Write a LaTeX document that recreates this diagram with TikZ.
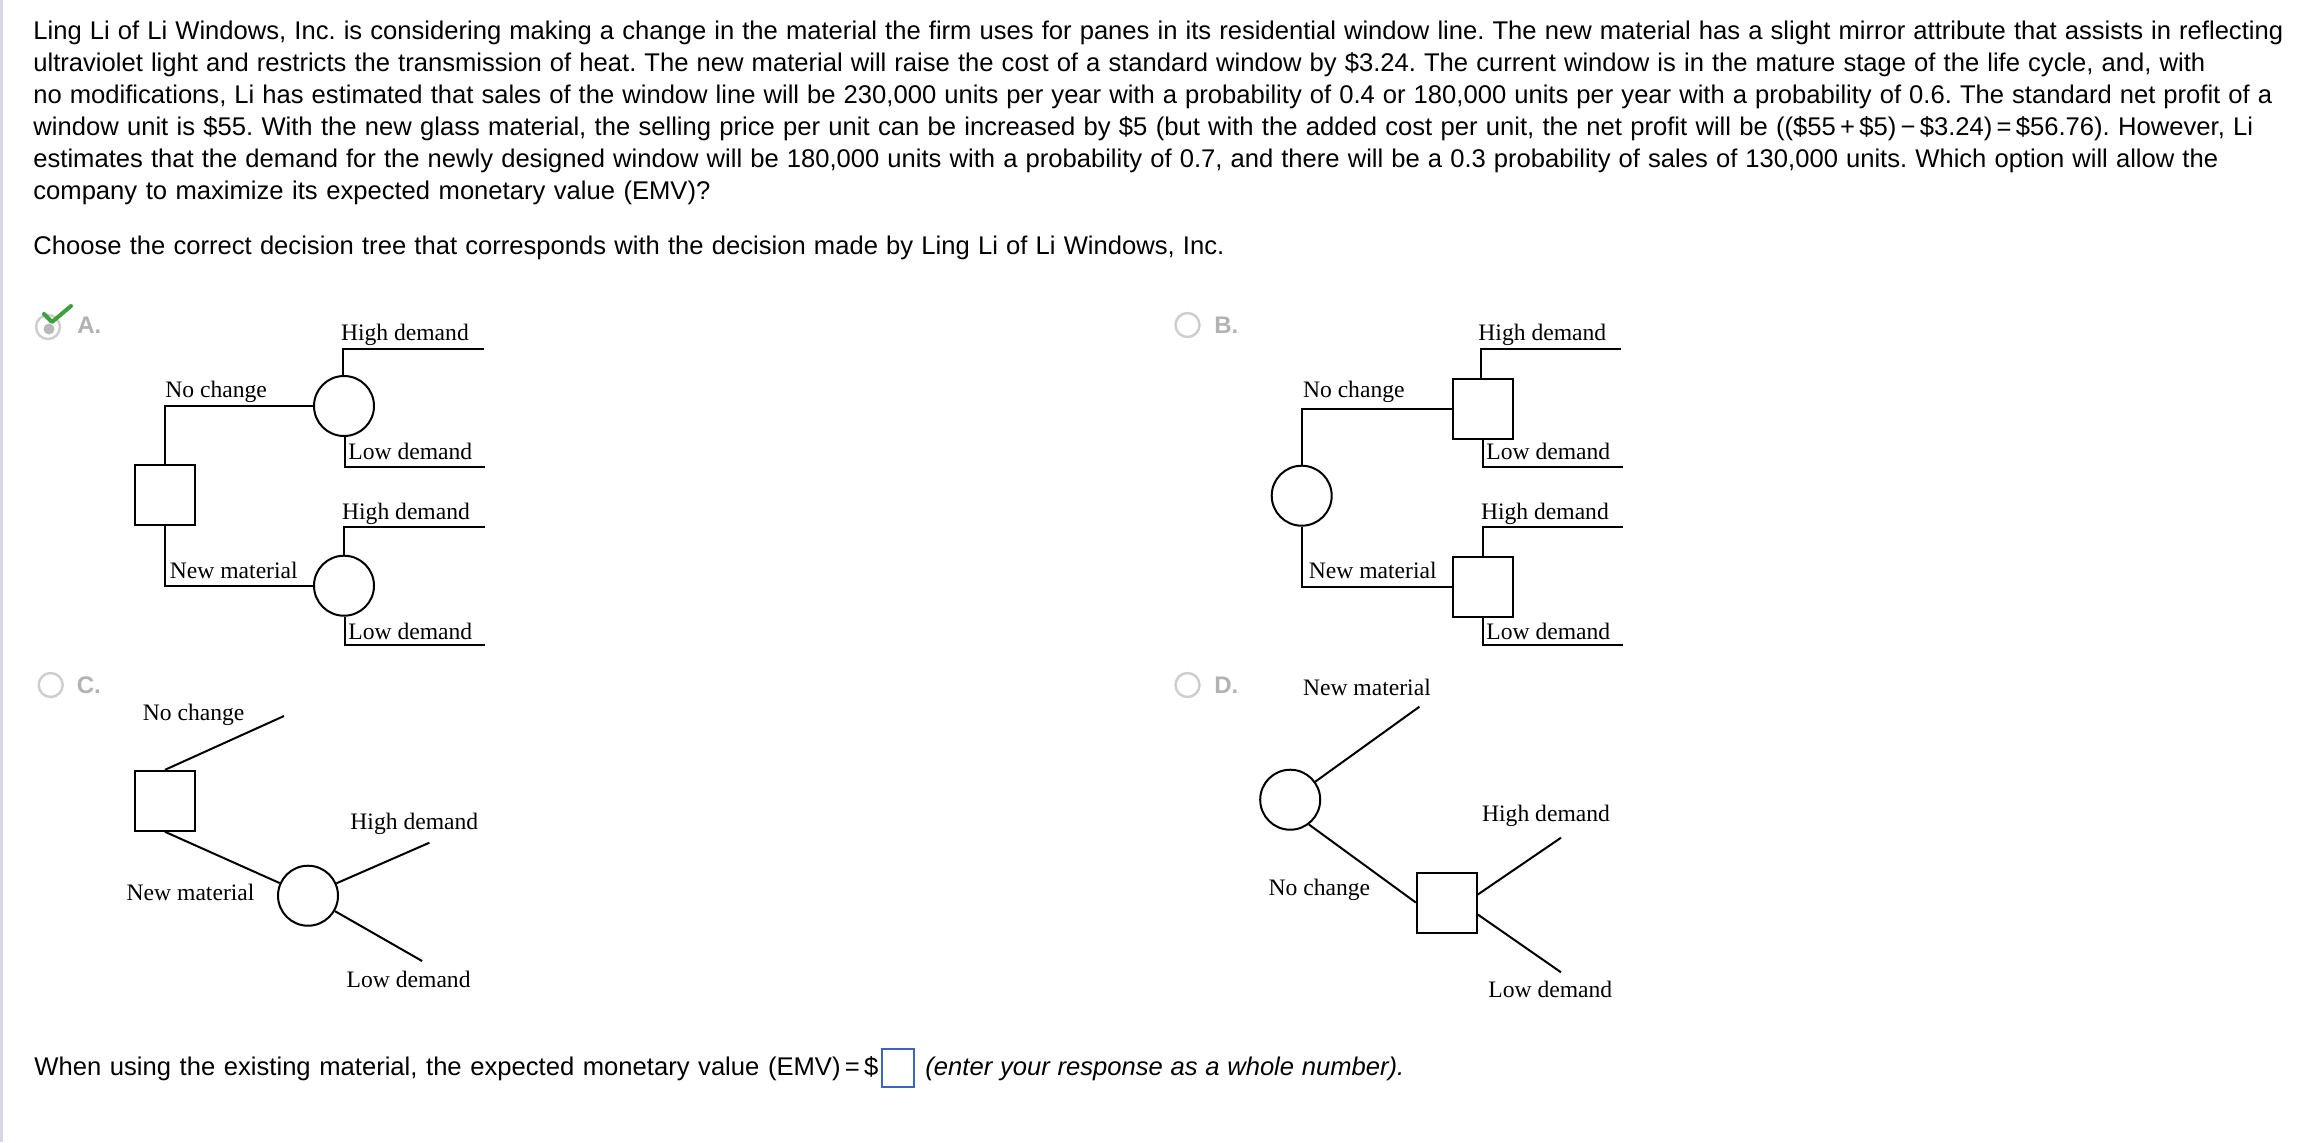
\documentclass[tikz,border=0pt]{standalone}
\usepackage{fontspec}
\setmainfont{Liberation Serif}
\newfontfamily\arial{Liberation Sans}
\definecolor{optgray}{RGB}{178,178,178}
\definecolor{ringgray}{RGB}{205,205,205}
\definecolor{bordercol}{RGB}{212,216,230}
\definecolor{ansblue}{RGB}{60,100,196}
\definecolor{checkgreen}{RGB}{60,160,60}
\newcommand{\qline}[2]{\makebox[#1][s]{#2}}
\frenchspacing
\begin{document}
\begin{tikzpicture}[x=0.5pt,y=-0.5pt,
  q/.style={font=\arial\fontsize{12.8}{16}\selectfont, anchor=base west, inner sep=0},
  lbl/.style={font=\fontsize{11.8}{14}\selectfont, anchor=base west, inner sep=0},
  decision/.style={draw, line width=1pt, minimum width=30pt, minimum height=30pt, inner sep=0},
  chance/.style={draw, circle, line width=1pt, minimum size=30pt, inner sep=0},
  branch/.style={line width=1pt},
  opt/.style={font=\arial\bfseries\fontsize{12}{14}\selectfont, text=optgray, anchor=base west, inner sep=0},
  radio/.style={draw=ringgray, line width=1.2pt, circle, minimum size=12pt, inner sep=0}]
\useasboundingbox (0,0) rectangle (2322,1142);
\fill[white] (0,0) rectangle (2322,1142);
\fill[bordercol] (0,0) rectangle (3,1142);

% question text
\node[q] (q1) at (33,39) {\qline{1125pt}{Ling Li of Li Windows, Inc. is considering making a change in the material the firm uses for panes in its residential window line. The new material has a slight mirror attribute that assists in reflecting}};
\node[q] (q2) at (33,71) {\qline{1086pt}{ultraviolet light and restricts the transmission of heat. The new material will raise the cost of a standard window by \$3.24. The current window is in the mature stage of the life cycle, and, with}};
\node[q] (q3) at (33,103) {\qline{1119.5pt}{no modifications, Li has estimated that sales of the window line will be 230,000 units per year with a probability of 0.4 or 180,000 units per year with a probability of 0.6. The standard net profit of a}};
\node[q] (q4) at (33,135) {\qline{1110pt}{window unit is \$55. With the new glass material, the selling price per unit can be increased by \$5 (but with the added cost per unit, the net profit will be ((\$55\,+\,\$5)\,−\,\$3.24)\,=\,\$56.76). However, Li}};
\node[q] (q5) at (33,167) {\qline{1092.5pt}{estimates that the demand for the newly designed window will be 180,000 units with a probability of 0.7, and there will be a 0.3 probability of sales of 130,000 units. Which option will allow the}};
\node[q] (q6) at (33,199) {\qline{338.5pt}{company to maximize its expected monetary value (EMV)?}};
\node[q] (qc) at (33,254) {\qline{595.5pt}{Choose the correct decision tree that corresponds with the decision made by Ling Li of Li Windows, Inc.}};

% option markers
\node[radio, fill=white] (rA) at (48,327) {};
\fill[gray!55] (49,329) circle[radius=5.5];
\draw[checkgreen, line width=2pt, line cap=round, line join=round] (44,314) -- (52,322) -- (71,306);
\node[opt] (oA) at (77,333) {A.};
\node[radio] (rB) at (1187.5,325) {};
\node[opt] (oB) at (1214,333) {B.};
\node[radio] (rC) at (50.7,685) {};
\node[opt] (oC) at (76.5,693) {C.};
\node[radio] (rD) at (1187.5,685) {};
\node[opt] (oD) at (1214,693) {D.};

% ---------- Tree A ----------
\node[decision] (sqA) at (165,494.7) {};
\node[chance] (cA1) at (344,406) {};
\node[chance] (cA2) at (344,585.7) {};
\coordinate (hA1) at (484,349);
\coordinate (lA1) at (485,466.7);
\coordinate (hA2) at (485,526.7);
\coordinate (lA2) at (485,645);
\draw[branch] (sqA.north) |- (cA1.west);
\draw[branch] (sqA.south) |- (cA2.west);
\draw[branch] ([xshift=-0.5pt]cA1.north) |- (hA1);
\draw[branch] ([xshift=0.6pt]cA1.south) |- (lA1);
\draw[branch] (cA2.north) |- (hA2);
\draw[branch] ([xshift=0.6pt]cA2.south) |- (lA2);
\node[lbl] (tA1) at (165,397) {No change};
\node[lbl] (tA2) at (169.5,578.7) {New material};
\node[lbl] (tA3) at (340.6,340) {High demand};
\node[lbl] (tA4) at (348,459.3) {Low demand};
\node[lbl] (tA5) at (341.7,519.3) {High demand};
\node[lbl] (tA6) at (348,639) {Low demand};

% ---------- Tree B ----------
\node[chance] (cB) at (1301.7,495.7) {};
\node[decision] (sqB1) at (1483,408.7) {};
\node[decision] (sqB2) at (1483,586.7) {};
\coordinate (hB1) at (1621,349);
\coordinate (lB1) at (1623,466.7);
\coordinate (hB2) at (1623,526.7);
\coordinate (lB2) at (1623,645);
\draw[branch] (cB.north) |- (sqB1.west);
\draw[branch] (cB.south) |- (sqB2.west);
\draw[branch] ([xshift=-1.2pt]sqB1.north) |- (hB1);
\draw[branch] (sqB1.south) |- (lB1);
\draw[branch] (sqB2.north) |- (hB2);
\draw[branch] (sqB2.south) |- (lB2);
\node[lbl] (tB1) at (1302.6,397.3) {No change};
\node[lbl] (tB2) at (1308.4,578.7) {New material};
\node[lbl] (tB3) at (1478,340) {High demand};
\node[lbl] (tB4) at (1486,459.3) {Low demand};
\node[lbl] (tB5) at (1480.6,519.3) {High demand};
\node[lbl] (tB6) at (1486,639) {Low demand};

% ---------- Tree C ----------
\node[decision] (sqC) at (165,800.8) {};
\node[chance] (cC) at (308,895.7) {};
\coordinate (nC) at (284,716);
\coordinate (hC) at (429.4,842.7);
\coordinate (lC) at (422.1,961);
\draw[branch] (sqC.north) -- (nC);
\draw[branch] (sqC.south) -- (cC);
\draw[branch] (cC) -- (hC);
\draw[branch] (cC) -- (lC);
\node[lbl] (tC1) at (142.4,720) {No change};
\node[lbl] (tC2) at (126.3,900.7) {New material};
\node[lbl] (tC3) at (350,829.3) {High demand};
\node[lbl] (tC4) at (346.3,987.3) {Low demand};

% ---------- Tree D ----------
\node[chance] (cD) at (1290.2,799.7) {};
\node[decision] (sqD) at (1446.8,902.5) {};
\coordinate (nD) at (1419.4,706.7);
\coordinate (hD) at (1561,837.7);
\coordinate (lD) at (1561,972.3);
\draw[branch] (cD) -- (nD);
\draw[branch] (cD.-53) -- (sqD.west);
\draw[branch] ([yshift=4pt]sqD.east) -- (hD);
\draw[branch] ([yshift=-6pt]sqD.east) -- (lD);
\node[lbl] (tD1) at (1302.6,695) {New material};
\node[lbl] (tD2) at (1268.2,895) {No change};
\node[lbl] (tD3) at (1481.7,821.7) {High demand};
\node[lbl] (tD4) at (1488,997.3) {Low demand};

% ---------- answer line ----------
\node[q] (w1) at (34,1075) {\qline{422pt}{When using the existing material, the expected monetary value (EMV)\,=\,\$}};
\node[draw=ansblue, line width=1pt, minimum width=16pt, minimum height=19pt, inner sep=0] (ans) at (898,1068) {};
\node[q, font=\arial\itshape\fontsize{12.8}{16}\selectfont] (w2) at (925,1075) {\qline{239.5pt}{(enter your response as a whole number).}};
\end{tikzpicture}
\end{document}
